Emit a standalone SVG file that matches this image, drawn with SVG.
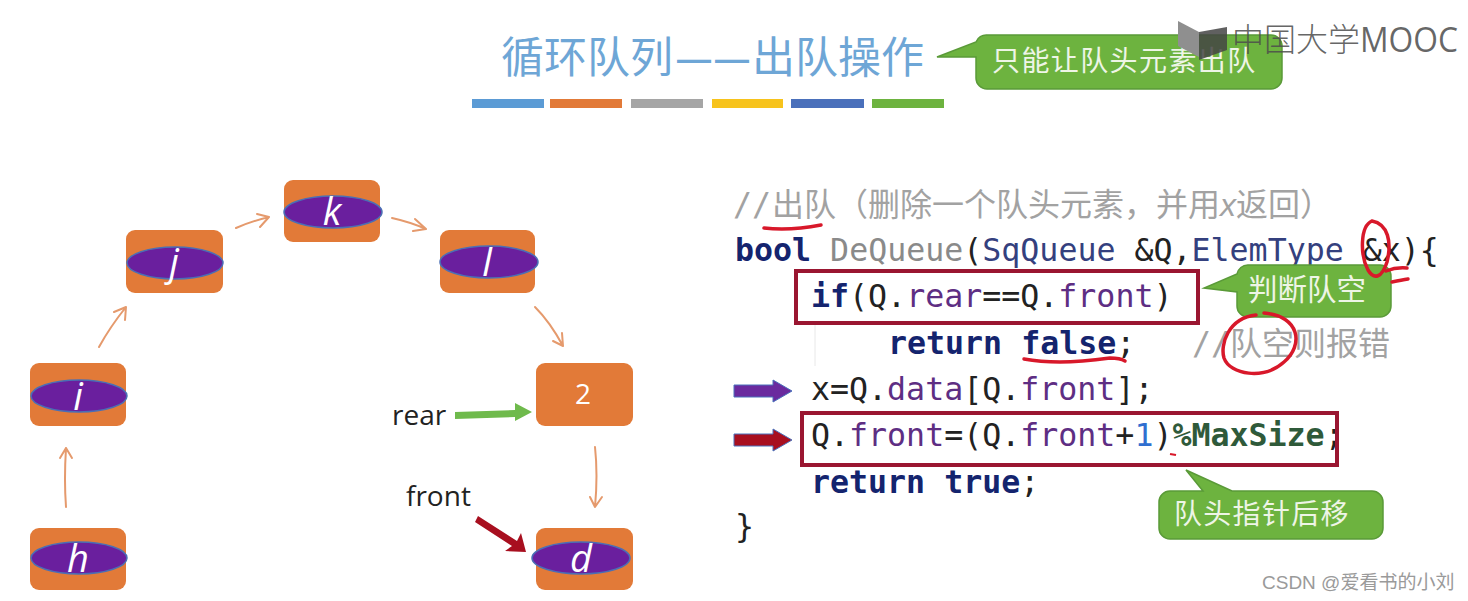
<svg xmlns="http://www.w3.org/2000/svg" width="1468" height="601" viewBox="0 0 1468 601">
<style>
.cjk{font-family:"Noto Sans CJK SC","Noto Sans",sans-serif}
.nd{fill:#e27a38}
.el{fill:#6a1f9e;stroke:#4a6fb5;stroke-width:1.5}
.lb{font-family:"Open Sans","Liberation Sans",sans-serif;font-style:italic;font-size:38px;fill:#fff;text-anchor:middle}
.lab{font-family:"Open Sans","Liberation Sans",sans-serif;font-size:28px;fill:#222}
.code{font-family:"DejaVu Sans Mono","Liberation Mono",monospace;font-size:31.6px;fill:#222}
.kw{fill:#14246e;font-weight:700}
.fld{fill:#5e2e83}
.typ{fill:#34407e}
.gr{fill:#8a8a8a}
.call{fill:#6db33f;stroke:#5a9a38;stroke-width:1.5}
.ct{font-family:"Noto Sans CJK SC",sans-serif;font-size:28px;fill:#eef5e6}
.edge{fill:none;stroke:#e59a6d;stroke-width:2;stroke-linecap:round;stroke-linejoin:round}
.red{fill:none;stroke:#d8182a;stroke-width:3.5;stroke-linecap:round}
.box{fill:none;stroke:#9a1631;stroke-width:4}
.ttl{font-size:43px;fill:#6ea6d6}
.dash{font-family:"Liberation Sans",sans-serif;font-size:34px;font-weight:700;fill:#6ea6d6}
</style>
<rect width="1468" height="601" fill="#fff"/>

<g id="title">
<text x="501" y="73" class="cjk ttl">循环队列</text>
<text x="677" y="70" class="dash">—</text>
<text x="715" y="70" class="dash">—</text>
<text x="752" y="73" class="cjk ttl">出队操作</text>
<rect x="472" y="99" width="72" height="9" fill="#5b9bd5"/>
<rect x="550" y="99" width="72" height="9" fill="#e27a38"/>
<rect x="631" y="99" width="72" height="9" fill="#a5a5a5"/>
<rect x="712" y="99" width="71" height="9" fill="#f7c31c"/>
<rect x="791" y="99" width="73" height="9" fill="#4a70bb"/>
<rect x="872" y="99" width="72" height="9" fill="#6db33f"/>
</g>

<g id="callout-top">
<path class="call" d="M987 35H1271a11 11 0 0 1 11 11V78a11 11 0 0 1-11 11H987a11 11 0 0 1-11-11V57L937 57L976 42a11 11 0 0 1 11-7Z"/>
<text x="992" y="71" class="ct" letter-spacing="1.4">只能让队头元素出队</text>
</g>

<g id="connectors">
<path class="edge" d="M66 507Q64 480 66 448M60 458L66 448L72 458"/>
<path class="edge" d="M99 347Q110 327 126 307M114 312L126 307L125 320"/>
<path class="edge" d="M236 228Q252 221 269 217M257 214L269 217L260 227"/>
<path class="edge" d="M392 218Q410 222 426 229M415 219L426 229L413 231"/>
<path class="edge" d="M535 307Q550 322 563 346M553 341L563 346L562 333"/>
<path class="edge" d="M595 447Q598 475 595 507M590 497L595 507L602 497"/>
<path d="M455 412L515 410V403L532 412L515 421V417L455 419Z" fill="#6fba4c"/>
<path d="M475 522L478 516L517 541L521 533L526 552L505 551L512 546Z" fill="#a80f1f"/>
</g>

<g id="node-k"><rect class="nd" x="284" y="180" width="96" height="62" rx="9"/><ellipse class="el" cx="333" cy="212" rx="49" ry="16"/><text class="lb" x="332" y="225">k</text></g>
<g id="node-j"><rect class="nd" x="126" y="230" width="97" height="63" rx="9"/><ellipse class="el" cx="175" cy="263" rx="48" ry="16"/><text class="lb" x="174" y="276">j</text></g>
<g id="node-l"><rect class="nd" x="440" y="230" width="95" height="63" rx="9"/><ellipse class="el" cx="489" cy="262" rx="49" ry="16"/><text class="lb" x="487" y="276">l</text></g>
<g id="node-i"><rect class="nd" x="30" y="363" width="96" height="63" rx="9"/><ellipse class="el" cx="79" cy="396" rx="48" ry="16"/><text class="lb" x="78" y="410">i</text></g>
<g id="node-2"><rect class="nd" x="536" y="363" width="97" height="63" rx="9"/><text x="583" y="404" font-family="Open Sans,sans-serif" font-size="28" fill="#fff" text-anchor="middle">2</text></g>
<g id="node-h"><rect class="nd" x="30" y="528" width="96" height="62" rx="9"/><ellipse class="el" cx="79" cy="558" rx="48" ry="16"/><text class="lb" x="78" y="572">h</text></g>
<g id="node-d"><rect class="nd" x="536" y="528" width="97" height="62" rx="9"/><ellipse class="el" cx="581" cy="558" rx="49" ry="16"/><text class="lb" x="581" y="572">d</text></g>

<text class="lab" x="392" y="425">rear</text>
<text class="lab" x="406" y="506">front</text>

<g id="code">
<line x1="815" y1="322" x2="815" y2="366" stroke="#e8e8e8"/>
<text x="733" y="215" font-family="DejaVu Sans Mono,monospace" font-size="31.6" fill="#a2a2a2">//</text>
<text x="772" y="216" class="cjk" font-size="32" fill="#a2a2a2">出队（删除一个队头元素，并用<tspan font-style="italic" font-family="Liberation Sans,sans-serif">x</tspan>返回）</text>
<text class="code" x="735" y="261"><tspan class="kw">bool</tspan><tspan class="gr"> DeQueue</tspan>(<tspan class="typ">SqQueue</tspan> &amp;Q,<tspan class="typ">ElemType</tspan> &amp;x){</text>
<text class="code" x="811" y="307"><tspan class="kw">if</tspan>(Q.<tspan class="fld">rear</tspan>==Q.<tspan class="fld">front</tspan>)</text>
<text class="code" x="888" y="354"><tspan class="kw">return false</tspan>;</text>
<text x="1192" y="354" font-family="DejaVu Sans Mono,monospace" font-size="31.6" fill="#a2a2a2">//</text>
<text x="1230" y="355" class="cjk" font-size="32" fill="#a2a2a2">队空则报错</text>
<text class="code" x="811" y="400">x=Q.<tspan class="fld">data</tspan>[Q.<tspan class="fld">front</tspan>];</text>
<text class="code" x="811" y="446">Q.<tspan class="fld">front</tspan>=(Q.<tspan class="fld">front</tspan>+<tspan fill="#2f6fd0">1</tspan>)<tspan fill="#2f5a3a" font-weight="700">%MaxSize</tspan>;</text>
<text class="code" x="811" y="493"><tspan class="kw">return true</tspan>;</text>
<text class="code" x="735" y="537">}</text>
<rect class="box" x="796" y="271" width="402" height="52"/>
<rect class="box" x="802" y="413" width="535" height="52"/>
<path d="M734 385H773V380L792 391L773 402V397H734Z" fill="#6a2a9e" stroke="#4a70bb"/>
<path d="M734 434H773V429L792 440L773 451V446H734Z" fill="#a80f1f" stroke="#4a70bb"/>
</g>

<g id="callout-empty">
<path class="call" d="M1248 265H1380a11 11 0 0 1 11 11V306a11 11 0 0 1-11 11H1248a11 11 0 0 1-11-11V292L1204 288L1237 274a11 11 0 0 1 11-9Z"/>
<text x="1248" y="300" class="ct" style="font-size:29.5px">判断队空</text>
</g>
<g id="callout-move">
<path class="call" d="M1170 491H1203L1186 470L1232 491H1372a11 11 0 0 1 11 11V528a11 11 0 0 1-11 11H1170a11 11 0 0 1-11-11V502a11 11 0 0 1 11-11Z"/>
<text x="1174" y="524" class="ct" letter-spacing="1.3">队头指针后移</text>
</g>

<g id="annotations">
<path class="red" d="M764 228Q790 231 821 225"/>
<path class="red" d="M1024 359Q1040 362 1060 362T1110 358Q1120 358 1125 361"/>
<path class="red" d="M1372 221C1360 226 1360 255 1368 270C1374 280 1382 278 1387 262C1392 242 1388 224 1372 221"/>
<path class="red" d="M1386 271Q1396 267 1407 268"/>
<path class="red" d="M1392 282Q1402 280 1408 279"/>
<path class="red" d="M1256 315C1228 318 1220 345 1224 358C1230 375 1264 380 1284 362C1304 345 1300 316 1264 313"/>
<path d="M1170 454L1176 455" stroke="#d8182a" stroke-width="2"/>
</g>

<g id="watermark">
<path d="M1178 21L1199 32V57L1178 46Z" fill="#8f8f8f"/>
<path d="M1199 32L1227 27V50L1199 60Z" fill="#444" fill-opacity=".85"/>
<text x="1232" y="51" font-family="Noto Sans CJK SC,sans-serif" font-size="32" fill="#4c4c4c" fill-opacity=".85" font-weight="300">中国大学</text>
<text x="1360" y="52" font-family="Open Sans,sans-serif" font-size="34" fill="#4c4c4c" fill-opacity=".85" textLength="98" lengthAdjust="spacingAndGlyphs">MOOC</text>
<text x="1262" y="589" font-family="Liberation Sans,Noto Sans CJK SC,sans-serif" font-size="19" fill="#9a9a9a">CSDN @爱看书的小刘</text>
</g>
</svg>
